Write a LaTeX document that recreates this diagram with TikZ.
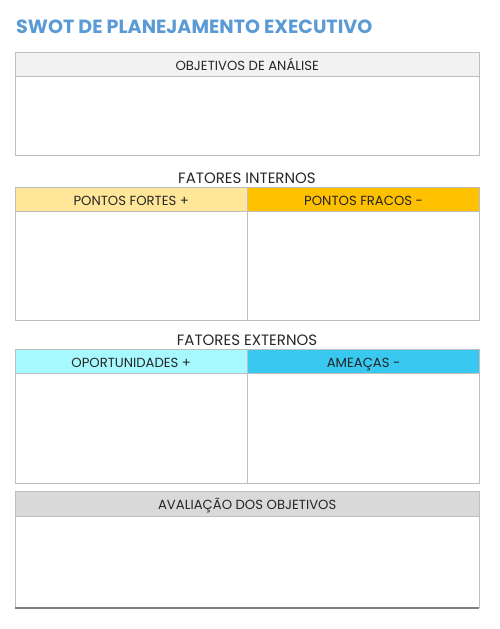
\documentclass[tikz,border=0pt]{standalone}
\usepackage{fontspec}
\setmainfont{Poppins}
\usetikzlibrary{positioning}
\definecolor{titleblue}{RGB}{91,155,213}
\definecolor{cellline}{RGB}{191,191,191}
\definecolor{hdrgray}{RGB}{242,242,242}
\definecolor{fortesyel}{RGB}{255,230,153}
\definecolor{fracosorg}{RGB}{255,192,0}
\definecolor{oportcyan}{RGB}{166,250,255}
\definecolor{ameacblue}{RGB}{56,200,240}
\definecolor{avalgray}{RGB}{217,217,217}
\newcommand{\fw}{464pt}
\newcommand{\hw}{232pt}
\tikzset{
  hdr/.style={draw=cellline,inner sep=0pt,minimum height=24pt,
    text height=12.5pt,text depth=0pt,
    font=\fontsize{13.2}{15}\selectfont,text=black!85},
  cell/.style={draw=cellline,fill=white,inner sep=0pt},
  sect/.style={font=\fontsize{15}{17}\selectfont,text=black!85}
}

\begin{document}
\begin{tikzpicture}[x=1pt,y=-1pt]
\useasboundingbox (0,0) rectangle (500,629);
\node[anchor=base west,inner sep=0pt,text=titleblue,
  font=\fontsize{19.1}{22}\selectfont\bfseries] (title) at (16,33) {SWOT DE PLANEJAMENTO EXECUTIVO};
% objetivos
\node[hdr,fill=hdrgray,minimum width=\fw,anchor=north west] (obj) at (15,52) {OBJETIVOS DE ANÁLISE};
\node[cell,minimum width=\fw,minimum height=79pt,below=0pt of obj] (objbody) {};
% fatores internos
\node[sect,anchor=base] (intern) at (247,183) {FATORES INTERNOS};
\node[hdr,fill=fortesyel,minimum width=\hw,anchor=north west] (fortes) at (15,187) {PONTOS FORTES +};
\node[hdr,fill=fracosorg,minimum width=\hw,right=0pt of fortes] (fracos) {PONTOS FRACOS -};
\node[cell,minimum width=\hw,minimum height=109pt,below=0pt of fortes] (fortesbody) {};
\node[cell,minimum width=\hw,minimum height=109pt,below=0pt of fracos] (fracosbody) {};
% fatores externos
\node[sect,anchor=base] (extern) at (247,345) {FATORES EXTERNOS};
\node[hdr,fill=oportcyan,minimum width=\hw,anchor=north west] (oport) at (15,349) {OPORTUNIDADES +};
\node[hdr,fill=ameacblue,minimum width=\hw,right=0pt of oport] (ameac) {AMEAÇAS -};
\node[cell,minimum width=\hw,minimum height=110pt,below=0pt of oport] (oportbody) {};
\node[cell,minimum width=\hw,minimum height=110pt,below=0pt of ameac] (ameacbody) {};
% avaliacao
\node[hdr,fill=avalgray,minimum width=\fw,minimum height=25pt,anchor=north west] (aval) at (15,491) {AVALIAÇÃO DOS OBJETIVOS};
\node[cell,minimum width=\fw,minimum height=91pt,below=0pt of aval] (avalbody) {};
\draw[black!50,line width=2.5pt] (avalbody.south west) -- (avalbody.south east);
\end{tikzpicture}
\end{document}
